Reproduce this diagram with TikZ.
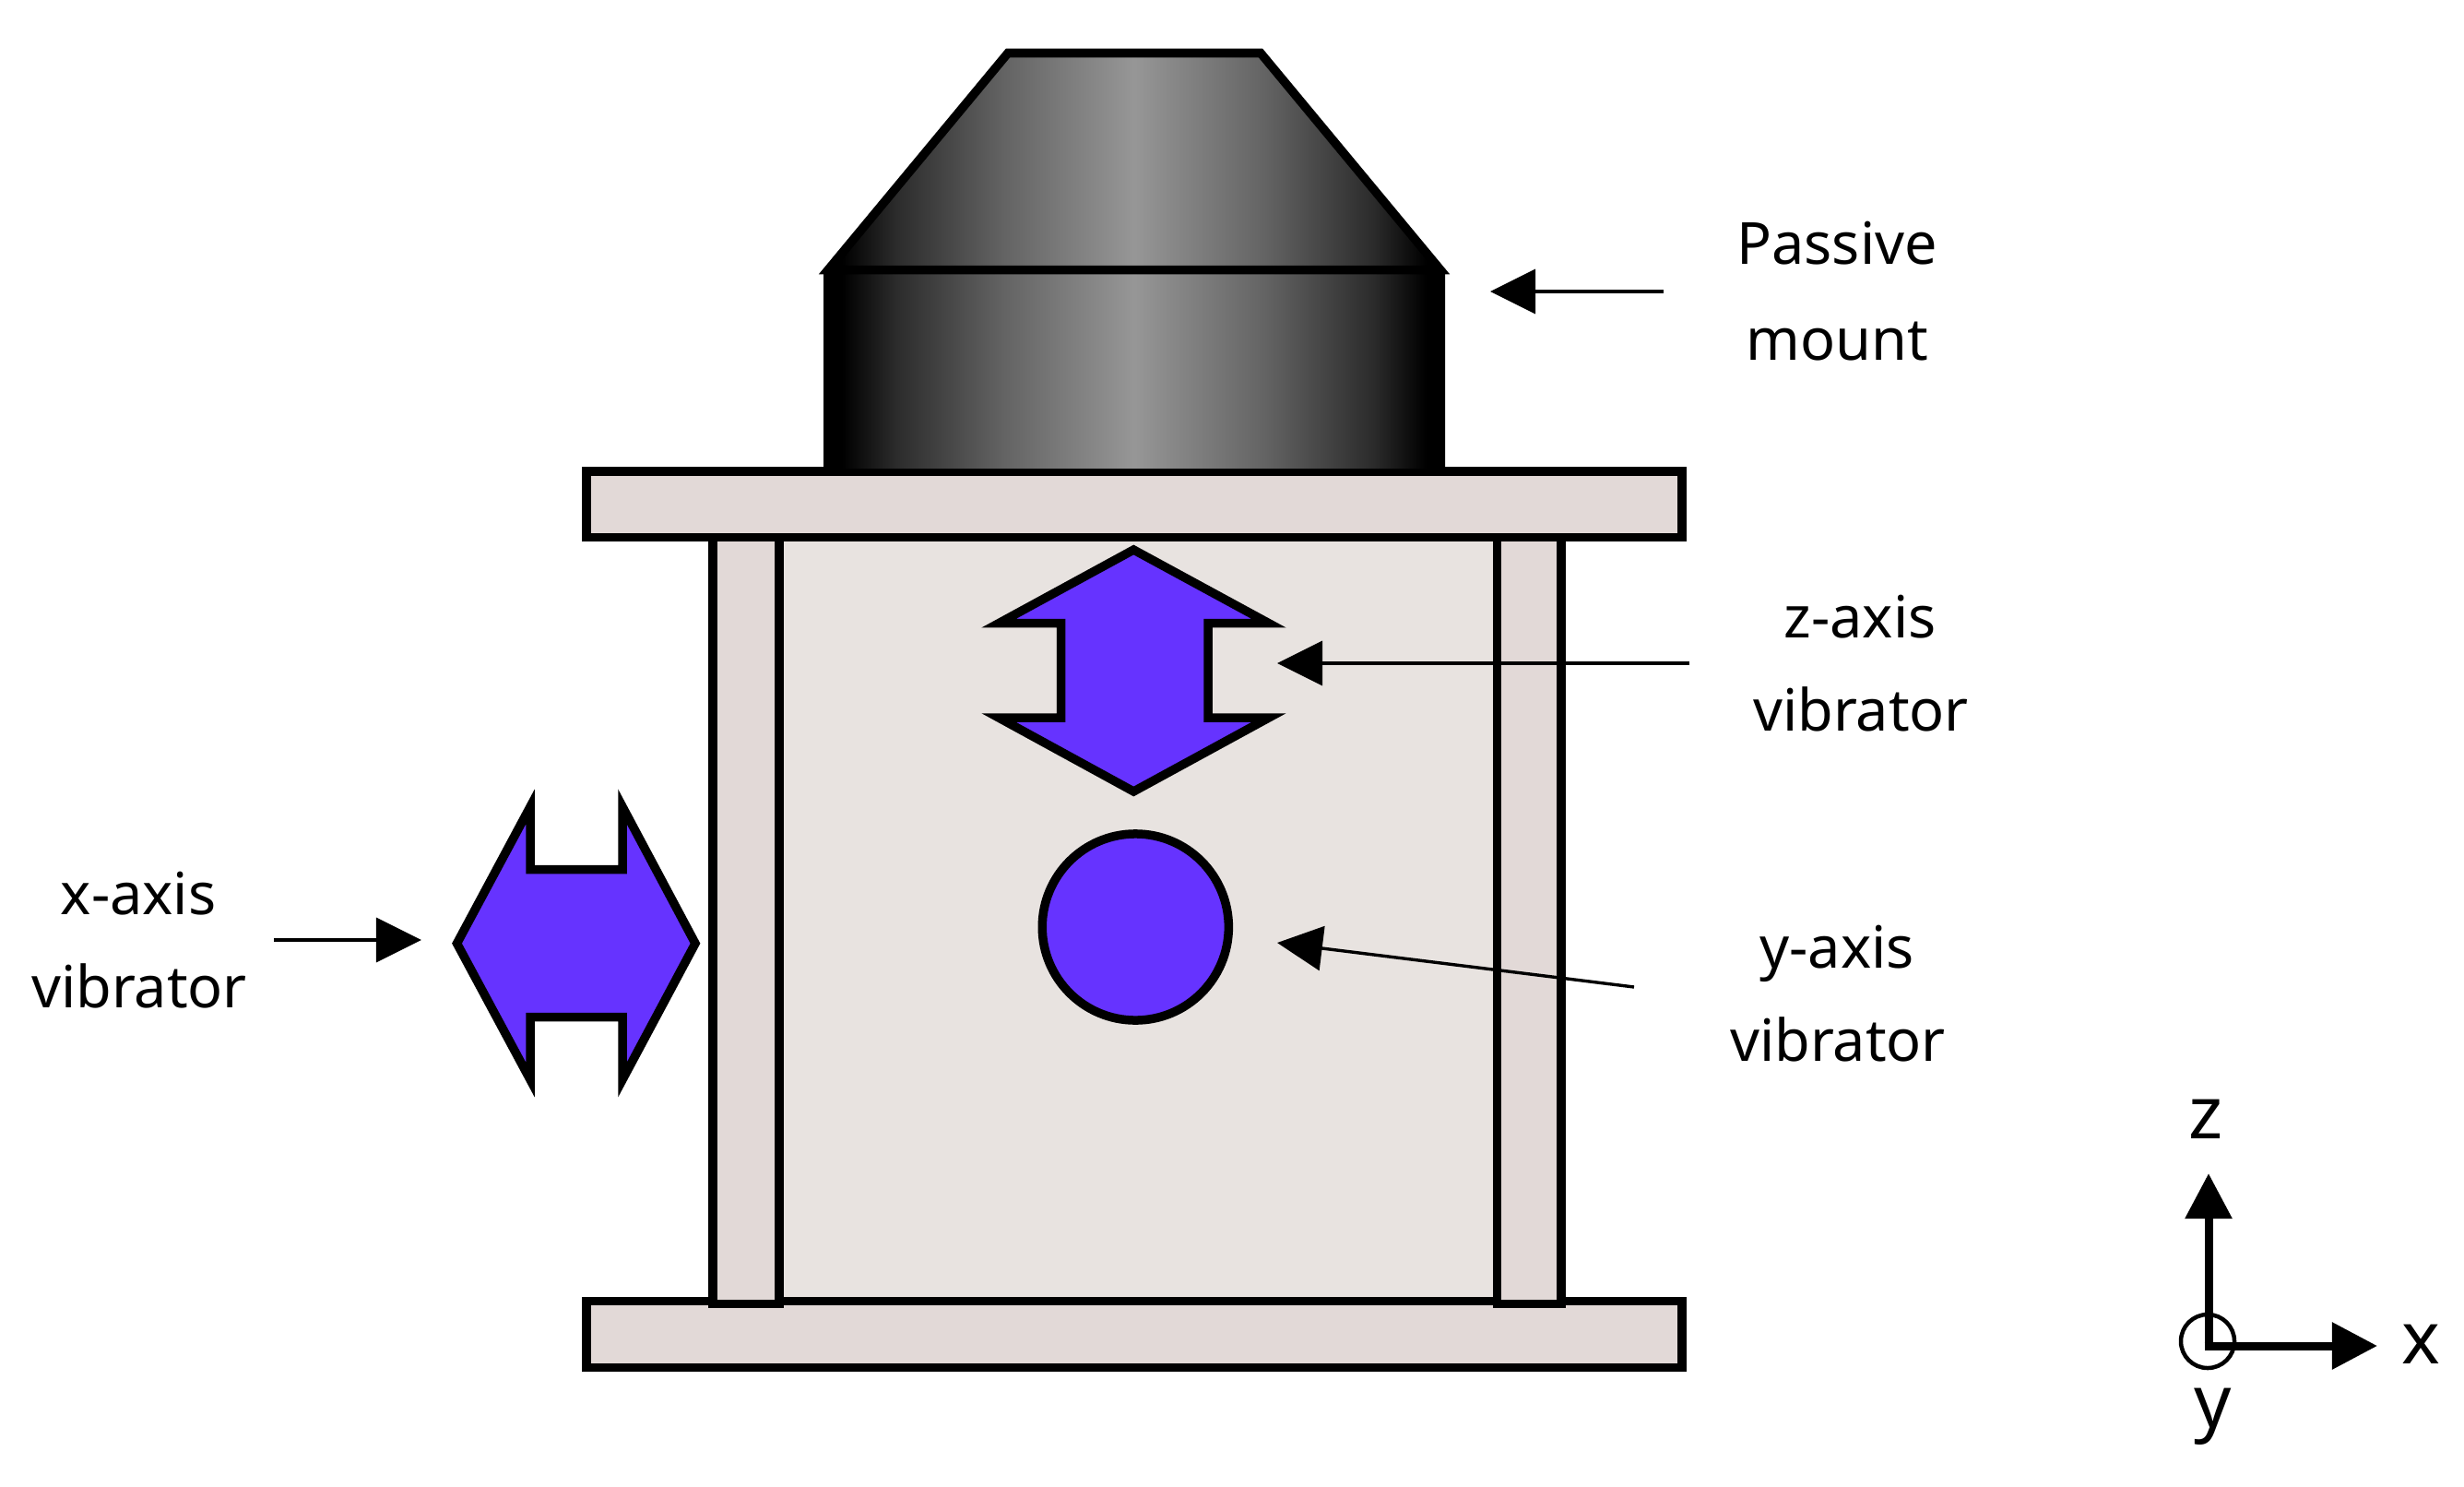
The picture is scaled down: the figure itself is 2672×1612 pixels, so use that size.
\documentclass[tikz,border=0pt]{standalone}
\usepackage{fontspec}
\setmainfont{Noto Sans}
\usetikzlibrary{arrows.meta}
\definecolor{plate}{HTML}{E2D9D7}
\definecolor{panel}{HTML}{E8E3E0}
\definecolor{vib}{HTML}{6633FF}
\pgfdeclarehorizontalshading{mountshade}{100bp}{color(0bp)=(black); color(26.5bp)=(black); color(30.8bp)=(black!83!white); color(39.5bp)=(black!61!white); color(50bp)=(black!41!white); color(60.5bp)=(black!61!white); color(69.2bp)=(black!83!white); color(73.5bp)=(black); color(100bp)=(black)}
\tikzset{
  x=0.01cm,y=-0.01cm,
  thick line/.style={line width=0.095cm,draw=black,miter limit=12},
  platebox/.style={thick line,fill=plate},
  vibshape/.style={thick line,fill=vib},
  pointer/.style={line width=0.034cm,-{Triangle[length=0.49cm,width=0.48cm]}},
  axisarrow/.style={line width=0.09cm,-{Triangle[length=0.49cm,width=0.49cm]}},
  lbl/.style={anchor=base,inner sep=0pt,font=\fontsize{17.9}{21}\selectfont},
  axlbl/.style={anchor=base,inner sep=0pt,font=\fontsize{22.5}{27}\selectfont},
}
\begin{document}
\begin{tikzpicture}
\useasboundingbox (0,0) rectangle (2672,1612);
% back panel
\fill[panel] (845,585) rectangle (1623,1412);
% bottom plate
\draw[platebox] (636,1410.5) rectangle (1824,1482.5);
% columns
\draw[platebox] (773,575) rectangle (845,1413.5);
\draw[platebox] (1623.5,575) rectangle (1693,1413.5);
% top plate
\draw[platebox] (636,511) rectangle (1824,582.5);
% passive mount
\shade[shading=mountshade] (893,292) rectangle (1567,507);
\shade[shading=mountshade] (893,293) -- (1093,57.5) -- (1367,57.5) -- (1567,293) -- cycle;
\draw[thick line] (898,292.5) -- (1093,57.5) -- (1367,57.5) -- (1562,292.5) -- cycle;
% vibrators
\draw[vibshape] (1229.3,596) -- (1376,675.7) -- (1310,675.7) -- (1310,778) -- (1376,778) -- (1229.3,858) -- (1083,778) -- (1150.7,778) -- (1150.7,675.7) -- (1083,675.7) -- cycle;
\draw[vibshape] (495.5,1022.7) -- (575,874.5) -- (575,942.7) -- (675,942.7) -- (675,874.5) -- (754,1022.7) -- (675,1170.5) -- (675,1102.7) -- (575,1102.7) -- (575,1170.5) -- cycle;
\draw[vibshape] (1231.3,1005) circle[radius=1.01cm];
% labels
\node[lbl] (passive) at (1992,286) {Passive};
\node[lbl] (mount) at (1992,390) {mount};
\node[lbl] (zaxis) at (2017,691) {z-axis};
\node[lbl] (zvib) at (2018,792) {vibrator};
\node[lbl] (yaxis) at (1992,1049) {y-axis};
\node[lbl] (yvib) at (1993,1150) {vibrator};
\node[lbl] (xaxis) at (150,991) {x-axis};
\node[lbl] (xvib) at (151,1092) {vibrator};
% pointers
\coordinate (pa) at (1804,316); \coordinate (pb) at (1616,316);
\coordinate (za) at (1832,719); \coordinate (zb) at (1385,719);
\coordinate (ya) at (1772,1070); \coordinate (yb) at (1385,1022);
\coordinate (xa) at (297,1019); \coordinate (xb) at (457,1019);
\draw[pointer] (pa) -- (pb);
\draw[pointer] (za) -- (zb);
\draw[pointer] (ya) -- (yb);
\draw[pointer] (xa) -- (xb);
% axes
\coordinate (orig) at (2395,1459);
\coordinate (ztip) at (2395,1272);
\coordinate (xtip) at (2578,1459);
\draw[line width=0.045cm] (2394,1454) circle[radius=0.29cm];
\draw[axisarrow] (orig) ++(0,4.5) -- (ztip);
\draw[axisarrow] (orig) ++(-4.5,0) -- (xtip);
\node[axlbl] (zl) at (2392,1234) {z};
\node[axlbl] (xl) at (2625,1478) {x};
\node[axlbl] (yl) at (2400,1547) {y};
\end{tikzpicture}
\end{document}
